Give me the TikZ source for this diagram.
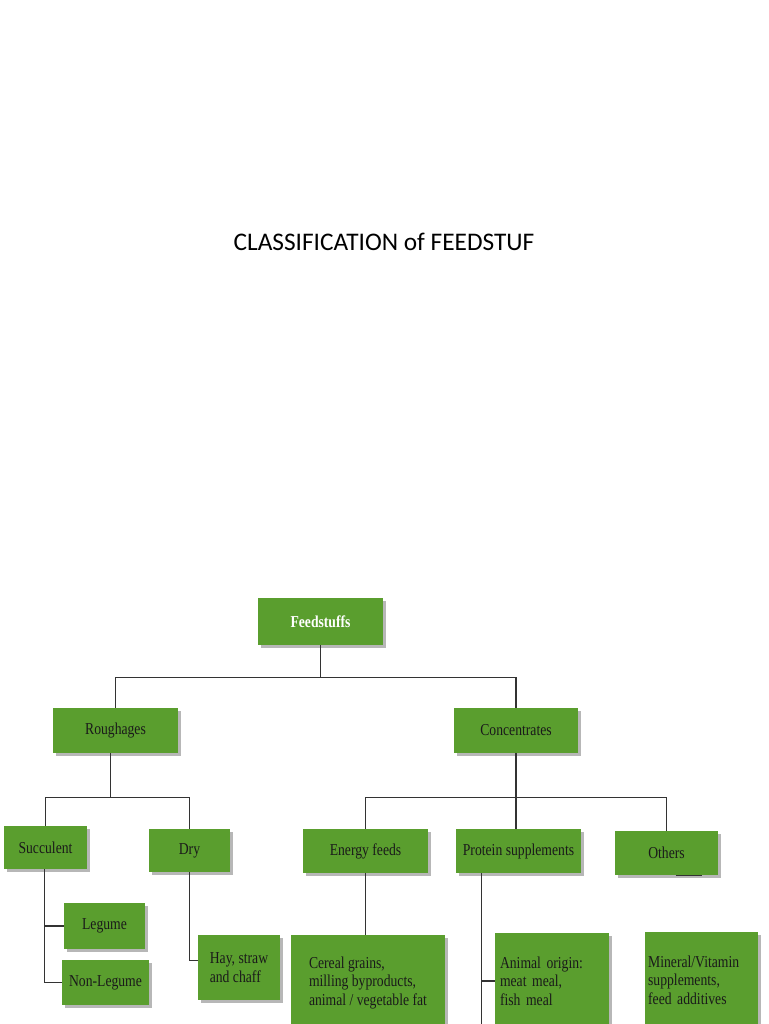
\documentclass[tikz,border=0pt]{standalone}
\usepackage{fontspec}
\setmainfont{Liberation Serif}[FakeStretch=0.82]
\newfontfamily\titlefont{Carlito}
\usetikzlibrary{shadows}
\definecolor{boxgreen}{HTML}{5A9E2E}
\definecolor{txt}{HTML}{1A1A1A}
\tikzset{
  box/.style={fill=boxgreen, draw=none, inner sep=2pt, text=txt, font=\fontsize{12.5}{14}\selectfont,
    drop shadow={shadow xshift=2.5pt, shadow yshift=-2.5pt, fill=black!35, opacity=0.8}},
  big/.style={box, align=left, anchor=north west},
  link/.style={draw=black!80, line width=0.9pt}
}
\begin{document}
\begin{tikzpicture}[x=0.75pt,y=-0.75pt]
\useasboundingbox[fill=white] (0,0) rectangle (768,1024);
\node[font=\titlefont\fontsize{19}{22}\selectfont, text=black] (title) at (384,242) {CLASSIFICATION of FEEDSTUF};

\node[box, minimum width=93.75pt, minimum height=35.25pt, text=white, font=\bfseries\fontsize{12.5}{14}\selectfont] (feed) at (320.5,621.5) {Feedstuffs};
\node[box, minimum width=93.75pt, minimum height=33.75pt] (rough) at (115.5,730.5) {Roughages};
\node[box, minimum width=93pt, minimum height=33.75pt] (conc) at (516,730.5) {Concentrates};
\node[box, minimum width=62.25pt, minimum height=32.25pt] (succ) at (45.5,847.5) {Succulent};
\node[box, minimum width=60.75pt, minimum height=32.25pt] (dry) at (189.5,850.5) {Dry};
\node[box, minimum width=93.75pt, minimum height=33pt] (energy) at (365.5,851) {Energy feeds};
\node[box, minimum width=93.75pt, minimum height=33pt] (prot) at (518.5,851) {Protein supplements};
\node[box, minimum width=77.25pt, minimum height=33pt] (others) at (666.5,853) {Others};
\node[box, minimum width=60.75pt, minimum height=34.5pt] (leg) at (104.5,926) {Legume};
\node[box, minimum width=65.25pt, minimum height=33.75pt] (nonleg) at (105.5,982.5) {Non-Legume};
\node[box, minimum width=61.5pt, minimum height=48.75pt, align=left] (hay) at (239,967.5) {Hay, straw\\and chaff};
\node[box, minimum width=115.5pt, minimum height=72pt, align=left] (cereal) at (368,983) {Cereal grains,\\milling byproducts,\\animal / vegetable fat};
\node[box, minimum width=85.5pt, minimum height=72pt, align=left, text width=78pt] (animal) at (552,981) {Animal origin:\\meat meal,\\fish meal};
\node[box, minimum width=84.75pt, minimum height=72pt, align=left, text width=80pt] (mineral) at (701.5,980) {Mineral/Vitamin\\supplements,\\feed additives};

\coordinate (pbot) at (481,1030);

\draw[link] (feed.south) -- ++(0,32) -| (rough.north);
\draw[link] (feed.south) ++(0,32) -| (conc.north);
\draw[link] ([xshift=-4pt]rough.south) -- ++(0,44) -| (succ.north);
\draw[link] ([xshift=-4pt]rough.south) ++(0,44) -| (dry.north);
\draw[link] (conc.south) -- ++(0,44) -| (energy.north);
\draw[link] (conc.south) ++(0,44) -| (others.north);
\draw[link] (conc.south) ++(0,44) -- (conc.south |- prot.north);
\draw[link] ([xshift=-1pt]succ.south) |- (nonleg.west);
\draw[link] ([xshift=-1pt]succ.south |- leg.west) -- (leg.west);
\draw[link] (dry.south) |- ([yshift=5pt]hay.west);
\draw[link] (energy.south) -- (energy.south |- cereal.north);
\draw[link] (others.south) ++(7pt,0) -- (others.south -| mineral.north);
\draw[link] ([xshift=-28pt]prot.south) -- ([xshift=-28pt]prot.south |- pbot);
\draw[link] ([xshift=-28pt]prot.south |- animal.west) -- (animal.west);
\end{tikzpicture}
\end{document}
